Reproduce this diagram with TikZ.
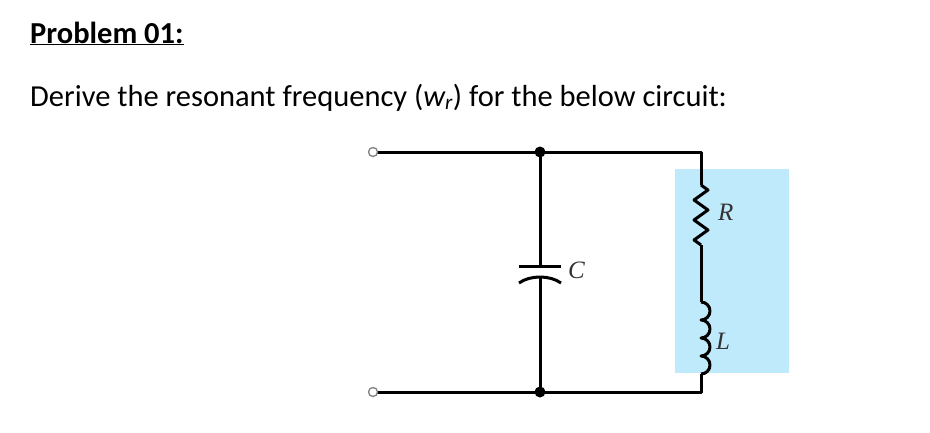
\documentclass[tikz,border=0pt]{standalone}
\usepackage{fontspec}
\setmainfont{Carlito}
\newfontfamily\timesf{Liberation Serif}
\begin{document}
\begin{tikzpicture}[x=1pt,y=-1pt,
  wire/.style={line width=3pt,line join=round},
  lbl/.style={font=\timesf\itshape\fontsize{25}{25}\selectfont,inner sep=0pt,text=black!80},
  term/.style={circle,draw=gray,line width=1.3pt,fill=white,minimum size=9pt,inner sep=0pt},
  dot/.style={circle,fill=black,minimum size=11pt,inner sep=0pt}]
\useasboundingbox (0,0) rectangle (930,432);
\fill[white] (0,0) rectangle (930,432);
\node[anchor=base west,inner sep=0pt,font=\bfseries\fontsize{30.5}{30}\selectfont] (title) at (30,43) {\underline{Problem 01:}};
\node[anchor=base west,inner sep=0pt,font=\fontsize{30.5}{30}\selectfont] (q) at (30,106) {Derive the resonant frequency (\textit{w\textsubscript{r}}) for the below circuit:};
\fill[cyan!25] (675,169) rectangle (789,373);
\coordinate (c1) at (701,152);
\coordinate (c2) at (701,392);
\coordinate (r1) at (701,185);
\coordinate (r2) at (701,245);
\coordinate (l1) at (701,302);
\coordinate (l2) at (701,375);
\coordinate (p1) at (540,266);
\coordinate (p2) at (540,277);
\draw[wire] (373,152) -- (540,152) -- (c1) -- (r1);
\draw[wire] (373,392) -- (540,392) -- (c2) -- (l2);
\draw[wire] (540,152) -- (p1);
\draw[wire] (p2) -- (540,392);
\node[term] (t1) at (373,152) {};
\node[term] (t2) at (373,392) {};
\node[dot] (j1) at (540,152) {};
\node[dot] (j2) at (540,392) {};
\draw[wire] (519,266) -- (561,266);
\draw[wire] (519,283) .. controls (530,275) and (550,275) .. (561,283);
\draw[wire] (r1) -- (708,190) -- (694,200) -- (708,210) -- (694,220) -- (708,230) -- (694,240) -- (r2);
\draw[wire] (r2) -- (l1);
\draw[wire] (l1) arc[start angle=-90,end angle=90,radius=9] arc[start angle=-90,end angle=90,radius=9]
  arc[start angle=-90,end angle=90,radius=9] arc[start angle=-90,end angle=90,radius=9];
\draw[wire] (701,374) -- (l2);
\node[lbl,anchor=west] (R) at (718,212) {R};
\node[lbl,anchor=west] (C) at (568,270) {C};
\node[lbl,anchor=west] (L) at (716,341) {L};
\end{tikzpicture}
\end{document}
